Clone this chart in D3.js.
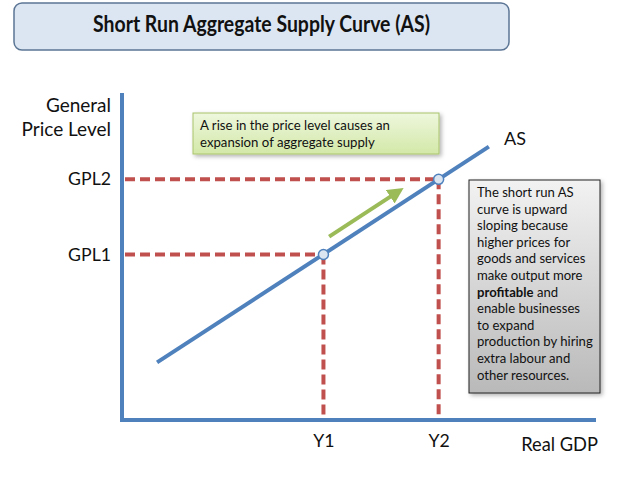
<!DOCTYPE html>
<html lang="en">
<head>
<meta charset="UTF-8">
<title>Short Run Aggregate Supply Curve</title>
<script src="https://cdn.jsdelivr.net/npm/d3@7"></script>
<style>
body { margin: 0; background: #fff; }
svg { display: block; font-family: Lato, "Open Sans", sans-serif; }
</style>
</head>
<body>
<script>

// chart values (abstract units: x = real GDP, y = price level)
var asCurve = [[7.4, 17.6], [77.4, 83.6]];
var equilibria = [[42.5, 50.6], [66.8, 73.6]];
var yTickValues = [50.6, 73.6];
var yTickLabels = ["GPL1", "GPL2"];
var xTickValues = [42.5, 66.8];
var xTickLabels = ["Y1", "Y2"];
var arrowPts = [[43.7, 56.1], [58, 69.6]];

var titleText = "Short Run Aggregate Supply Curve (AS)";
var greenLines = ["A rise in the price level causes an", "expansion of aggregate supply"];
var greyLines = ["The short run AS", "curve is upward", "sloping because", "higher prices for",
  "goods and services", "make output more", "profitable| and", "enable businesses",
  "to expand", "production by hiring", "extra labour and", "other resources."];

var W = 638, H = 479;
var svg = d3.select("body").append("svg").attr("width", W).attr("height", H);

var defs = svg.append("defs");
var gg = defs.append("linearGradient").attr("id", "greenGrad").attr("x1", 0).attr("y1", 0).attr("x2", 0).attr("y2", 1);
gg.append("stop").attr("offset", "0%").attr("stop-color", "#eef7dd");
gg.append("stop").attr("offset", "100%").attr("stop-color", "#d3e8a8");
var gr = defs.append("linearGradient").attr("id", "greyGrad").attr("x1", 0).attr("y1", 0).attr("x2", 0).attr("y2", 1);
gr.append("stop").attr("offset", "0%").attr("stop-color", "#f2f2f2");
gr.append("stop").attr("offset", "100%").attr("stop-color", "#b9b9b9");
var sh = defs.append("filter").attr("id", "shadow").attr("x", "-10%").attr("y", "-10%").attr("width", "130%").attr("height", "130%");
sh.append("feDropShadow").attr("dx", 2).attr("dy", 2).attr("stdDeviation", 2).attr("flood-color", "#000").attr("flood-opacity", 0.3);
var mk = defs.append("marker").attr("id", "arrowHead").attr("viewBox", "0 0 10 10")
  .attr("refX", 5).attr("refY", 5).attr("markerWidth", 4).attr("markerHeight", 4)
  .attr("orient", "auto").attr("markerUnits", "strokeWidth");
mk.append("path").attr("d", "M0,0 L10,5 L0,10 z").attr("fill", "#9bbb59");

// title banner
svg.append("rect").attr("x", 14).attr("y", 3).attr("width", 495).attr("height", 47)
  .attr("rx", 8).attr("fill", "#dce6f2").attr("stroke", "#5b7595").attr("stroke-width", 1.5);
svg.append("text").attr("x", 261.5).attr("y", 32).attr("text-anchor", "middle")
  .attr("font-size", 22).attr("font-weight", "bold").attr("fill", "#111")
  .attr("textLength", 337).attr("lengthAdjust", "spacingAndGlyphs").text(titleText);

var x = d3.scaleLinear().domain([0, 100]).range([122, 596]);
var y = d3.scaleLinear().domain([0, 100]).range([420, 93]);

// dashed guide lines
var guides = svg.append("g").attr("stroke", "#c0504d").attr("stroke-width", 4)
  .attr("stroke-dasharray", "10,5").attr("fill", "none");
equilibria.forEach(function(p) {
  guides.append("line").attr("x1", x(0) + 3).attr("y1", y(p[1])).attr("x2", x(p[0])).attr("y2", y(p[1]));
  guides.append("line").attr("x1", x(p[0])).attr("y1", y(p[1])).attr("x2", x(p[0])).attr("y2", y(0) - 2);
});

// axes
svg.append("line").attr("x1", x(0)).attr("y1", y(100)).attr("x2", x(0)).attr("y2", y(0) + 2)
  .attr("stroke", "#4f81bd").attr("stroke-width", 4);
svg.append("line").attr("x1", x(0)).attr("y1", y(0)).attr("x2", x(100)).attr("y2", y(0))
  .attr("stroke", "#4f81bd").attr("stroke-width", 4);

var yAxis = d3.axisLeft(y).tickValues(yTickValues).tickSize(0).tickPadding(0)
  .tickFormat(function(d, i) { return yTickLabels[i]; });
var ya = svg.append("g").attr("transform", "translate(111,0)").call(yAxis);
ya.select(".domain").remove();
ya.selectAll("text").attr("font-size", 17.7).attr("fill", "#111").attr("font-family", "Lato, sans-serif");

var xAxis = d3.axisBottom(x).tickValues(xTickValues).tickSize(0).tickPadding(0)
  .tickFormat(function(d, i) { return xTickLabels[i]; });
var xa = svg.append("g").attr("transform", "translate(0,434)").call(xAxis);
xa.select(".domain").remove();
xa.selectAll("text").attr("font-size", 17.7).attr("fill", "#111").attr("font-family", "Lato, sans-serif");

// axis titles
svg.append("text").attr("x", 111).attr("y", 112).attr("text-anchor", "end")
  .attr("font-size", 19).attr("fill", "#111").text("General");
svg.append("text").attr("x", 111).attr("y", 136).attr("text-anchor", "end")
  .attr("font-size", 19).attr("fill", "#111").text("Price Level");
svg.append("text").attr("x", 598).attr("y", 451).attr("text-anchor", "end")
  .attr("font-size", 18.3).attr("fill", "#111").text("Real GDP");

// AS curve
var line = d3.line().x(function(d) { return x(d[0]); }).y(function(d) { return y(d[1]); });
svg.append("path").attr("d", line(asCurve)).attr("stroke", "#4f81bd").attr("stroke-width", 4)
  .attr("fill", "none");
svg.append("text").attr("x", 504).attr("y", 145).attr("font-size", 18).attr("fill", "#111").text("AS");

svg.selectAll("circle.eq").data(equilibria).enter().append("circle").attr("class", "eq")
  .attr("cx", function(d) { return x(d[0]); })
  .attr("cy", function(d) { return y(d[1]); })
  .attr("r", 5).attr("fill", "#dbe5f1").attr("stroke", "#4f81bd").attr("stroke-width", 1.5);

// green arrow
svg.append("path").attr("d", line(arrowPts)).attr("stroke", "#9bbb59").attr("stroke-width", 4)
  .attr("fill", "none").attr("marker-end", "url(#arrowHead)");

// green note
svg.append("rect").attr("x", 193).attr("y", 113).attr("width", 246).attr("height", 41)
  .attr("fill", "url(#greenGrad)").attr("stroke", "#a9c46c").attr("stroke-width", 1)
  .attr("filter", "url(#shadow)");
svg.selectAll("text.green").data(greenLines).enter().append("text").attr("class", "green")
  .attr("x", 200).attr("y", function(d, i) { return 130 + i * 17; })
  .attr("font-size", 13.2).attr("fill", "#111").text(function(d) { return d; });

// grey note
svg.append("rect").attr("x", 469).attr("y", 180).attr("width", 131).attr("height", 213)
  .attr("fill", "url(#greyGrad)").attr("stroke", "#222").attr("stroke-width", 1)
  .attr("filter", "url(#shadow)");
var gt = svg.selectAll("text.grey").data(greyLines).enter().append("text").attr("class", "grey")
  .attr("x", 477).attr("y", function(d, i) { return 197 + i * 16.6; })
  .attr("font-size", 13.1).attr("fill", "#111");
gt.each(function(d) {
  var parts = d.split("|");
  var t = d3.select(this);
  if (parts.length > 1) {
    t.append("tspan").attr("font-weight", "bold").text(parts[0]);
    t.append("tspan").text(parts[1]);
  } else {
    t.text(d);
  }
});

</script>
</body>
</html>
